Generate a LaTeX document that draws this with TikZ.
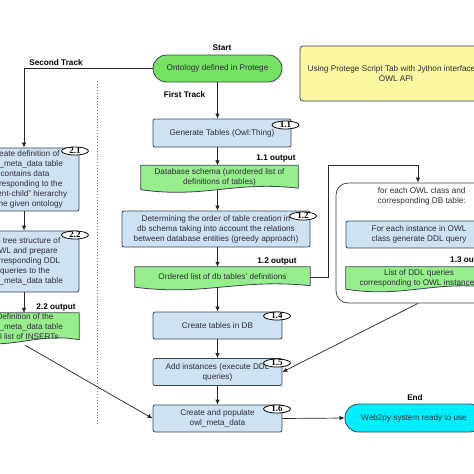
\documentclass[tikz,border=0pt]{standalone}
\usepackage{fontspec}
\setmainfont{Liberation Sans}
\newfontfamily\badgefnt{Liberation Serif}
\usetikzlibrary{arrows.meta,shapes.geometric,calc}
\pgfdeclarelayer{bg}
\pgfdeclarelayer{cont}
\pgfdeclarelayer{shapes}
\pgfsetlayers{bg,cont,shapes,main}
\definecolor{txtc}{RGB}{45,45,55}
\definecolor{bordc}{RGB}{60,68,80}
\definecolor{procc}{RGB}{207,226,243}
\definecolor{docc}{RGB}{150,238,140}
\definecolor{startc}{RGB}{118,226,100}
\definecolor{yelc}{RGB}{250,248,160}
\definecolor{cyanc}{RGB}{0,238,255}
\newcommand\wavedoc[2]{%
  \filldraw[draw=bordc, fill=#2, line width=0.8pt]
    let \p1=(#1.north west), \p2=(#1.south east) in
    (\x1,\y1) -- (\x2,\y1) -- (\x2,\y2+1.5pt)
    .. controls ({0.4*\x1+0.6*\x2},{\y2+9pt}) and ({0.6*\x1+0.4*\x2},{\y2-9pt}) .. (\x1,\y2) -- cycle;}
\begin{document}
\begin{tikzpicture}[x=1pt,y=-1pt,
  txt/.style={font=\fontsize{8.2}{10}\selectfont, text=txtc, align=center},
  proc/.style={txt, draw=bordc, fill=procc, line width=0.8pt, rounded corners=2pt, inner sep=0pt},
  docn/.style={txt, inner sep=0pt},
  term/.style={txt, draw=bordc, line width=0.8pt, rounded corners=13.5pt, inner sep=0pt},
  lbl/.style={font=\fontsize{8.2}{10}\selectfont\bfseries, text=black, inner sep=0pt},
  badge/.style={ellipse, draw=black, fill=white, line width=0.8pt, inner sep=0pt, minimum width=27pt, minimum height=8pt, text height=5.5pt, text depth=0pt, font=\badgefnt\fontsize{9}{9}\selectfont\bfseries},
  arr/.style={draw=black!85, line width=0.7pt, -{Latex[length=5pt,width=4.5pt]}},
]
\useasboundingbox (0,0) rectangle (474,474);
\begin{pgfonlayer}{bg}
\fill[white] (0,0) rectangle (474,474);
\end{pgfonlayer}

% labels
\node[lbl] (startl) at (222,48) {Start};
\node[lbl] (sec) at (56,63) {Second Track};
\node[lbl] (first) at (184.5,95) {First Track};
\node[lbl] (o11) at (276,159) {1.1 output};
\node[lbl] (o12) at (277,261) {1.2 output};
\node[lbl, anchor=west] (o13) at (450,260) {1.3 output};
\node[lbl] (o22) at (56,307) {2.2 output};
\node[lbl] (endl) at (415,398) {End};

% top
\node[term, fill=startc, minimum width=129pt, minimum height=27pt] (start) at (217.5,68.5) {Ontology defined in Protege};
\node[txt, draw=bordc, fill=yelc, rounded corners=3pt, line width=0.8pt, minimum width=192pt, minimum height=55pt] (note) at (396,73.5) {Using Protege Script Tab with Jython interface to\\OWL API};

% first track
\node[proc, minimum width=138pt, minimum height=28pt] (p11) at (222,133) {Generate Tables (Owl:Thing)};
\node[docn, minimum width=157pt, minimum height=24pt] (d11) at (219.5,177.5) {Database schema (unordered list of\\definitions of tables)};
\node[proc, minimum width=188pt, minimum height=36pt] (p12) at (216,229) {Determining the order of table creation in\\db schema taking into account the relations\\between database entities (greedy approach)};
\node[docn, minimum width=175pt, minimum height=20pt] (d12) at (222.5,277) {Ordered list of db tables' definitions};
\node[proc, minimum width=129pt, minimum height=27pt] (p14) at (217.5,325.5) {Create tables in DB};
\node[proc, minimum width=129pt, minimum height=27pt] (p15) at (217.5,372) {Add instances (execute DDL\\queries)};
\node[proc, minimum width=129pt, minimum height=27pt] (p16) at (217.5,418.5) {Create and populate\\owl\_meta\_data};
\node[term, fill=cyanc, minimum width=138pt, minimum height=28pt] (endn) at (414,418) {Web2py system ready to use};

% loop
\begin{pgfonlayer}{cont}
\node[draw=bordc, line width=0.8pt, fill=white, rounded corners=12pt, minimum width=164pt, minimum height=120pt, inner sep=0pt] (loop) at (418,243) {};
\end{pgfonlayer}
\node[txt] (looptxt) at (421.7,196.7) {for each OWL class and\\corresponding DB table:};
\node[proc, minimum width=146pt, minimum height=27pt] (p13) at (419,234.5) {For each instance in OWL\\class generate DDL query};
\node[docn, minimum width=146pt, minimum height=22pt] (d13) at (419,278) {List of DDL queries\\corresponding to OWL instances};

% second track
\node[proc, minimum width=108pt, minimum height=63pt] (p21) at (25,179.5) {Create definition of\\owl\_meta\_data table\\contains data\\corresponding to the\\"parent-child" hierarchy\\of the given ontology};
\node[proc, minimum width=108pt, minimum height=61pt] (p22) at (25,261.5) {On tree structure of\\OWL and prepare\\corresponding DDL\\queries to the\\owl\_meta\_data table};
\node[docn, minimum width=108pt, minimum height=28pt] (d22) at (25,327) {Definition of the\\owl\_meta\_data table\\full list of INSERTs};

% badges
\node[badge] (b11) at (285.5,125) {1.1};
\node[badge] (b12) at (303,216) {1.2};
\node[badge] (b14) at (277,316) {1.4};
\node[badge] (b15) at (277,363) {1.5};
\node[badge] (b16) at (277,409) {1.6};
\node[badge] (b21) at (75,151) {2.1};
\node[badge] (b22) at (75,235) {2.2};

% document shapes
\begin{pgfonlayer}{shapes}
\wavedoc{d11}{docc}
\wavedoc{d12}{docc}
\wavedoc{d13}{docc}
\wavedoc{d22}{docc}
\end{pgfonlayer}

% dotted separator
\coordinate (dt) at (97.5,81);
\coordinate (db) at (97.5,425);
\draw[dotted, line width=0.9pt, black!55] (dt) -- (db);

% connectors
\draw[arr] (start.west) -| ([xshift=-1pt]p21.north);
\draw[arr] (start.south) -- (start.south |- p11.north);
\draw[arr] (start.south |- p11.south) -- (start.south |- d11.north);
\draw[arr] (start.south |- d11.south) -- (start.south |- p12.north);
\draw[arr] (start.south |- p12.south) -- (start.south |- d12.north);
\draw[arr] (start.south |- d12.south) -- (start.south |- p14.north);
\draw[arr] (p14.south) -- (p15.north);
\draw[arr] (p15.south) -- (p16.north);
\draw[arr] (p16.east) -- (endn.west);
\draw[arr] (d12.east) -- ++(18,0) |- ([yshift=17pt]loop.north) -- (loop.north);
\draw[arr] (loop.south) -- (p15.east);
\draw[arr] ([xshift=-1pt]p21.south) -- ([xshift=-1pt]p22.north);
\draw[arr] ([xshift=-1pt]p22.south) -- ([xshift=-1pt]d22.north);
\draw[arr] ([yshift=-4pt]d22.south) -- (p16.west);
\end{tikzpicture}
\end{document}
